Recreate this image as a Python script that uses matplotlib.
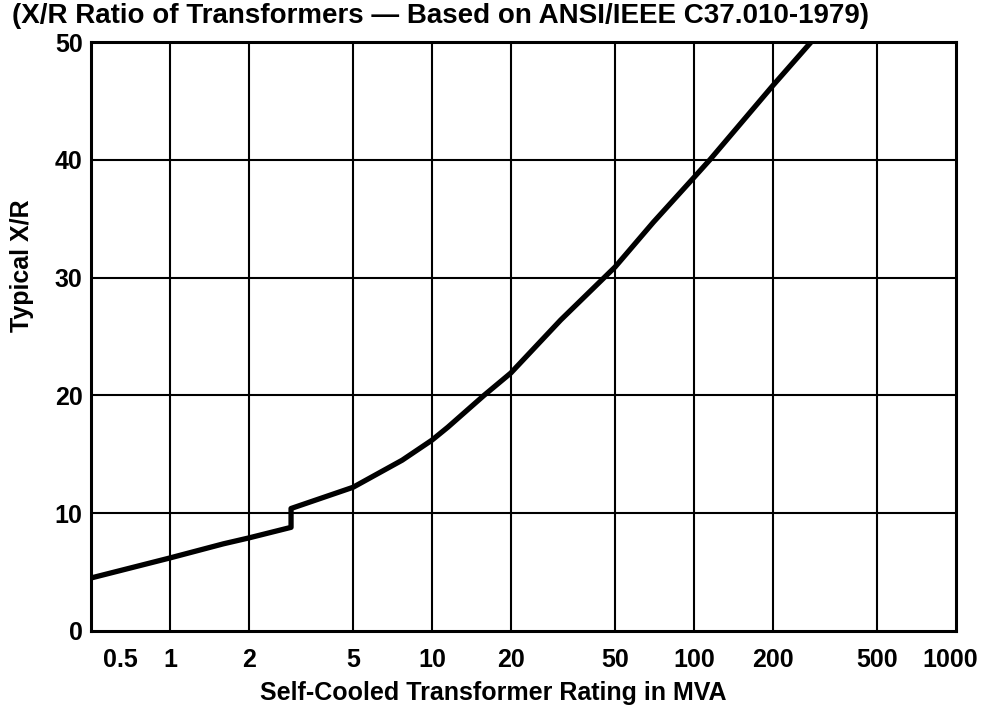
import matplotlib
matplotlib.use("Agg")
import matplotlib.pyplot as plt
from matplotlib.transforms import ScaledTranslation
from matplotlib import font_manager

# ---- data ----
mva = [0.5, 1.0, 1.6, 2.0, 2.9, 2.9, 5.0, 7.7, 10.0, 11.5, 15.8, 20.0, 31.0, 50.0, 70.0, 100.0, 115.0, 200.0, 280.0]
xr = [4.5, 6.2, 7.4, 7.9, 8.8, 10.4, 12.2, 14.5, 16.2, 17.3, 20.0, 21.9, 26.4, 30.9, 34.7, 38.5, 40.0, 46.3, 50.0]

x_ticks = [0.5, 1, 2, 5, 10, 20, 50, 100, 200, 500, 1000]
x_tick_labels = ["0.5", "1", "2", "5", "10", "20", "50", "100", "200", "500", "1000"]
x_grid = [1, 2, 5, 10, 20, 50, 100, 200, 500]
y_ticks = [0, 10, 20, 30, 40, 50]
y_grid = [10, 20, 30, 40]

title = "(X/R Ratio of Transformers \u2014 Based on ANSI/IEEE C37.010-1979)"
xlabel = "Self-Cooled Transformer Rating in MVA"
ylabel = "Typical X/R"

# ---- font ----
names = {f.name for f in font_manager.fontManager.ttflist}
fam = "Liberation Sans Narrow" if "Liberation Sans Narrow" in names else "Liberation Sans"
plt.rcParams["font.family"] = [fam, "DejaVu Sans"]
plt.rcParams["font.weight"] = "bold"

fig = plt.figure(figsize=(9.84, 7.07), dpi=100)
ax = fig.add_axes([91 / 984, 1 - 631 / 707, (956 - 91) / 984, (631 - 42) / 707])

ax.set_xscale("log")
ax.set_xlim(0.51, 1000)
ax.set_ylim(0, 50)

for g in x_grid:
    ax.axvline(g, color="black", lw=1.5, zorder=1)
for g in y_grid:
    ax.axhline(g, color="black", lw=1.5, zorder=1)

ax.plot(mva, xr, color="black", lw=3.8, solid_joinstyle="round", solid_capstyle="butt", zorder=3)

ax.set_xticks(x_ticks)
ax.set_xticklabels(x_tick_labels)
ax.xaxis.set_minor_locator(matplotlib.ticker.NullLocator())
ax.set_yticks(y_ticks)
ax.tick_params(axis="both", length=0, labelsize=18)
ax.tick_params(axis="x", pad=12)
ax.tick_params(axis="y", pad=6)

labels = ax.get_xticklabels()
labels[0].set_transform(labels[0].get_transform() + ScaledTranslation(29 / 100, 0, fig.dpi_scale_trans))
labels[-1].set_transform(labels[-1].get_transform() + ScaledTranslation(-6 / 100, 0, fig.dpi_scale_trans))

for s in ax.spines.values():
    s.set_linewidth(2.2)
    s.set_color("black")

ax.set_xlabel(xlabel, fontsize=18, fontweight="bold", labelpad=6)
ax.xaxis.set_label_coords(0.465, -0.085)
ax.set_ylabel(ylabel, fontsize=18, fontweight="bold")
ax.yaxis.set_label_coords(-0.066, 0.62)

fig.text(12 / 984, 1 - 3 / 707, title, fontsize=20, fontweight="bold", ha="left", va="top")

fig.savefig("out.png", dpi=100)
